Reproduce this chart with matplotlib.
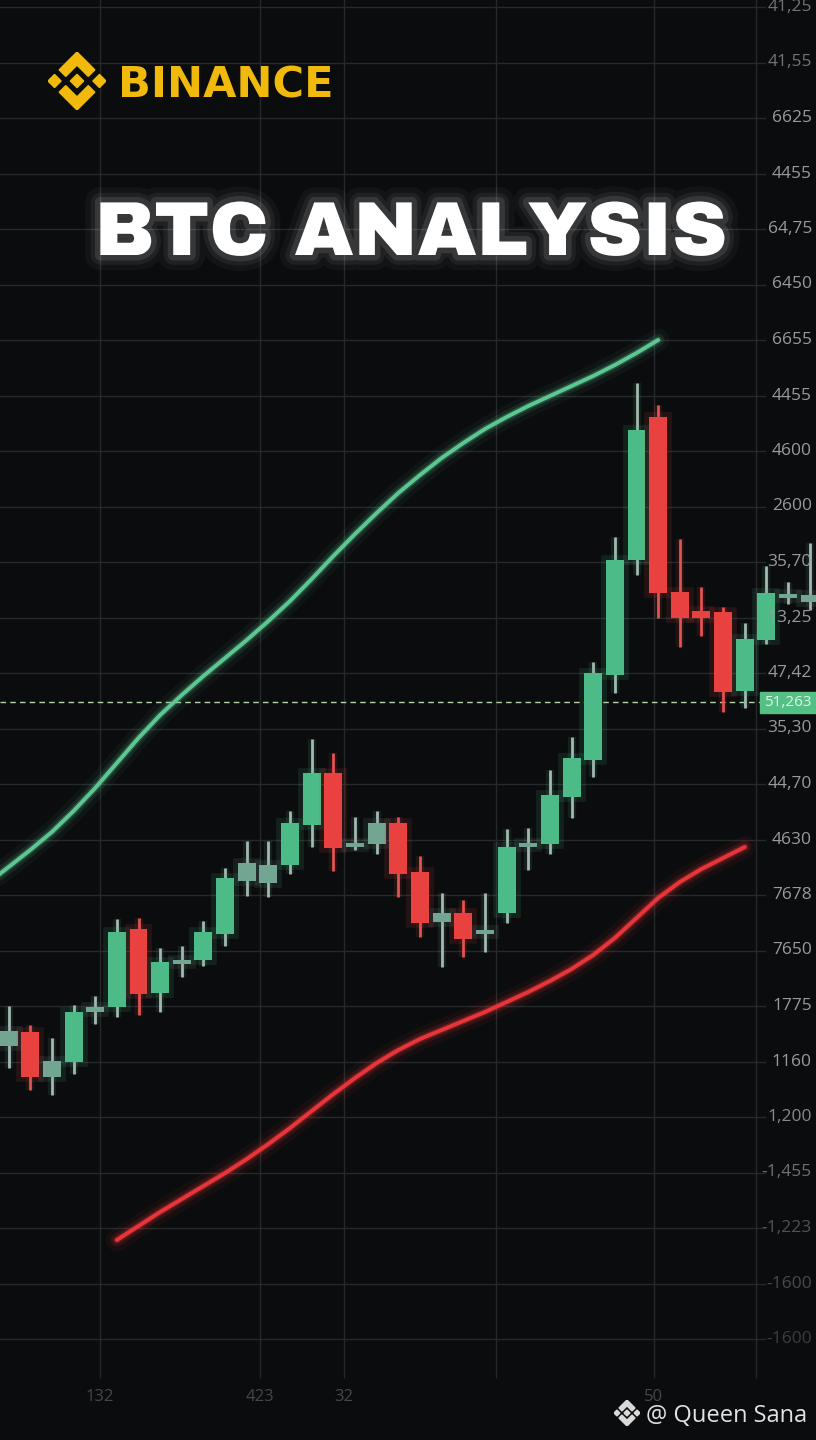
import numpy as np
import matplotlib
matplotlib.use("Agg")
from matplotlib import pyplot as plt
from matplotlib import patheffects as pe
from matplotlib import font_manager as fm
from matplotlib.patches import Polygon, Rectangle
from matplotlib.transforms import blended_transform_factory

# candle data (price units of the chart)
opens = [394, 408, 363, 378, 428, 433, 511, 447, 476, 480, 506, 559, 557, 575, 615, 667, 593, 596, 617,
         568, 518, 527, 507, 527, 593, 596, 643, 680, 765, 880, 1023, 848, 829, 828, 749, 800, 842, 838]
highs = [434, 415, 402, 435, 444, 521, 522, 492, 494, 519, 572, 599, 599, 629, 701, 687, 623, 629, 623,
         584, 547, 540, 547, 611, 612, 670, 703, 778, 903, 1057, 1035, 901, 853, 833, 817, 874, 858, 897]
lows = [372, 350, 345, 366, 416, 423, 425, 428, 463, 474, 494, 544, 543, 566, 593, 569, 590, 586, 543,
        503, 473, 483, 488, 517, 570, 586, 622, 663, 747, 865, 822, 793, 804, 728, 732, 796, 836, 830]
closes = [409, 363, 379, 428, 433, 508, 446, 478, 480, 508, 562, 577, 575, 617, 667, 592, 597, 617, 566,
          517, 527, 501, 509, 593, 597, 645, 682, 767, 880, 1010, 847, 822, 822, 748, 801, 847, 846, 845]

# bands
upper_band = [556, 573, 590, 608, 629, 652, 677, 702, 725, 745, 764, 782, 800, 819, 839, 861, 884, 906,
              927, 947, 965, 982, 997, 1011, 1023, 1034, 1044, 1054, 1064, 1075, 1087, 1100]
upper_start = -1
lower_band = [200, 214, 228, 241, 254, 267, 281, 296, 312, 329, 346, 362, 377, 390, 401, 410, 419, 428,
              438, 448, 459, 471, 485, 502, 522, 542, 558, 571, 582, 593]
lower_start = 5

last_price = 738
last_label = "51,263"

price_labels = ["41,25", "41,55", "6625", "4455", "64,75", "6450", "6655", "4455", "4600", "2600",
                "35,70", "13,25", "47,42", "35,30", "44,70", "4630", "7678", "7650", "1775", "1160",
                "1,200", "-1,455", "-1,223", "-1600", "-1600"]
price_ticks = 1433 - 55.5 * np.arange(len(price_labels))

time_ticks = [4.2, 11.6, 15.5, 22.5, 29.8, 34.5]
time_labels = ["132", "423", "32", "", "50", ""]

BG = "#0b0c0e"
GRID = "#26292c"
GREEN = "#4dbb87"
MUTED = "#72a592"
RED = "#e8413f"


def has_font(name):
    try:
        path = fm.findfont(fm.FontProperties(family=name), fallback_to_default=False)
        return name.split()[0].lower() in path.lower().replace("-", "").replace("_", "")
    except Exception:
        return False


if has_font("Archivo Black"):
    title_font, title_weight, title_size = "Archivo Black", "normal", 55
else:
    title_font, title_weight, title_size = "Lato", "heavy", 63

fig = plt.figure(figsize=(8.16, 14.4), dpi=100, facecolor=BG)
ax = fig.add_axes([0, 0, 1, 1])
ax.set_facecolor(BG)
ax.set_xlim(-0.397, 37.29)
ax.set_ylim(0, 1440)
ax.axis("off")

# grid
for p in price_ticks:
    ax.axhline(p, xmin=0, xmax=0.9375, color=GRID, lw=1.0, zorder=1)
for t in time_ticks:
    ax.plot([t, t], [63, 1440], color=GRID, lw=1.0, zorder=1)

# right price labels
tr = blended_transform_factory(ax.transAxes, ax.transData)
for k, (p, lab) in enumerate(zip(price_ticks, price_labels)):
    if k < 2:
        col = "#6f7377"
    elif k < 20:
        col = "#979b9f"
    else:
        col = ["#85898d", "#6c7074", "#4f5356", "#474a4d", "#3b3e41"][k - 20]
    ax.text(0.995, p, lab, transform=tr, ha="right", va="center", color=col,
            fontsize=12.5, family="Open Sans", zorder=8)

# bottom time labels
for t, lab in zip(time_ticks, time_labels):
    ax.text(t, 43, lab, ha="center", va="center", color="#45484b", fontsize=12,
            family="Open Sans", zorder=3)

# bands with glow
xu = np.arange(upper_start, upper_start + len(upper_band))
xl = np.arange(lower_start, lower_start + len(lower_band))
glow_g = [pe.Stroke(linewidth=16, foreground="#5cc792", alpha=0.05),
          pe.Stroke(linewidth=9, foreground="#5cc792", alpha=0.12),
          pe.Stroke(linewidth=5, foreground="#5cc792", alpha=0.25), pe.Normal()]
glow_r = [pe.Stroke(linewidth=16, foreground="#e8353a", alpha=0.06),
          pe.Stroke(linewidth=9, foreground="#e8353a", alpha=0.14),
          pe.Stroke(linewidth=5, foreground="#e8353a", alpha=0.28), pe.Normal()]
ax.plot(xu, upper_band, color="#5cc792", lw=2.8, solid_capstyle="round", solid_joinstyle="round",
        path_effects=glow_g, zorder=4)
ax.plot(xl, lower_band, color="#e8353a", lw=2.8, solid_capstyle="round", solid_joinstyle="round",
        path_effects=glow_r, zorder=4)

# last price dashed line
ax.plot([-0.397, 34.7], [last_price, last_price], color="#b4d4a8", lw=1.0, ls=(0, (4, 3)), zorder=3)
ax.add_patch(Rectangle((0.931, last_price - 10.5), 0.069, 21, transform=tr, color="#55c084", zorder=9))
ax.text(0.966, last_price, last_label, transform=tr, ha="center", va="center", color="#e2f5e8",
        fontsize=11, family="Open Sans", zorder=10)

# candles
o = np.array(opens)
c = np.array(closes)
h = np.array(highs)
lo = np.array(lows)
x = np.arange(len(o))
for i in range(len(o)):
    up = c[i] >= o[i]
    body = abs(c[i] - o[i])
    if up:
        col = MUTED if body < 22 else GREEN
        wcol = "#a3b9af"
    else:
        col = RED
        wcol = "#e05552"
    ax.vlines(x[i], lo[i], h[i], color=wcol, lw=2.0, zorder=5,
              path_effects=[pe.Stroke(linewidth=6, foreground=col, alpha=0.12), pe.Normal()])
    hgt = max(body, 4)
    ax.bar(x[i], hgt, bottom=min(o[i], c[i]) - (hgt - body) / 2, width=0.83, color=col, zorder=6,
           path_effects=[pe.Stroke(linewidth=7, foreground=col, alpha=0.12), pe.Normal()])

# Binance logo shapes (svg coords 0..126.61)
logo_polys = [
    [(38.73, 53.2), (63.3, 28.63), (87.89, 53.22), (102.19, 38.92), (63.3, 0), (24.42, 38.9)],
    [(0, 63.31), (14.3, 49.01), (28.6, 63.31), (14.3, 77.61)],
    [(38.73, 73.41), (63.3, 97.98), (87.89, 73.39), (102.2, 87.68), (63.3, 126.61), (24.42, 87.7)],
    [(98.01, 63.31), (112.31, 49.01), (126.61, 63.31), (112.31, 77.61)],
    [(77.81, 63.3), (63.3, 48.79), (48.8, 63.29), (63.3, 77.8)],
]


def draw_logo(rect, color):
    la = fig.add_axes(rect)
    la.set_xlim(0, 126.61)
    la.set_ylim(126.61, 0)
    la.axis("off")
    for poly in logo_polys:
        la.add_patch(Polygon(poly, closed=True, color=color))


draw_logo([48 / 816, 1 - 110 / 1440, 58 / 816, 58 / 1440], "#f0b90b")
fig.text(118 / 816, 1 - 97 / 1440, "BINANCE", color="#f0b90b", fontsize=31, fontweight="bold",
         family="DejaVu Sans", ha="left", va="baseline")

title_glow = [pe.Stroke(linewidth=22, foreground="white", alpha=0.035),
              pe.Stroke(linewidth=14, foreground="white", alpha=0.06),
              pe.Stroke(linewidth=8, foreground="white", alpha=0.10), pe.Normal()]
fig.text(411 / 816, 1 - 255 / 1440, "BTC ANALYSIS", color="white", fontsize=title_size,
         fontweight=title_weight, family=title_font, ha="center", va="baseline",
         path_effects=title_glow)

# watermark
draw_logo([614 / 816, 1 - 1426 / 1440, 26 / 816, 26 / 1440], "#d9d9d9")
fig.text(646 / 816, 1 - 1422 / 1440, "@ Queen Sana", color="#e2e2e2", fontsize=17,
         family="Open Sans", ha="left", va="baseline")

fig.savefig("out.png", dpi=100, facecolor=BG)
